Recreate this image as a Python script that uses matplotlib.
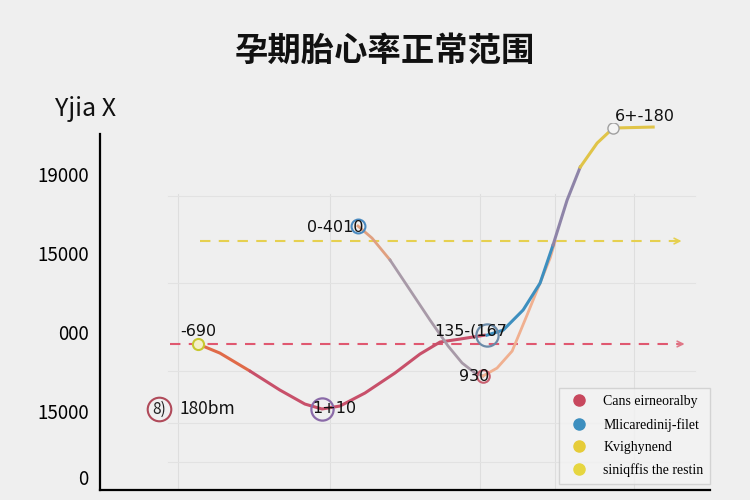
import matplotlib
matplotlib.use("Agg")
import matplotlib.pyplot as plt
from matplotlib.lines import Line2D

plt.rcParams['font.family'] = ['Noto Sans CJK SC', 'DejaVu Sans']

# ---------------- data ----------------
title = "孕期胎心率正常范围"
y_label = "Yjia X"
y_ticks = [0, 40, 80, 120, 160]
y_tick_labels = ["0", "15000", "000", "15000", "19000"]
x_grid = [5.1, 15.1, 24.9, 29.8, 35.0]
y_grid = [14, 34, 60, 105, 149]

red_x = [6.43, 7.87, 9.84, 11.80, 13.44, 14.56, 15.74, 17.38, 19.34, 20.98, 22.30, 23.61, 25.25]
red_y = [73.9, 69.3, 60.2, 50.6, 43.5, 41.0, 42.5, 49.1, 59.2, 68.8, 74.9, 76.4, 78.4]

desc_x = [16.92, 17.84, 19.02, 20.33, 21.64, 22.82, 23.74, 24.59, 25.11]
desc_y = [133.6, 127.5, 116.4, 101.2, 86.0, 72.9, 64.3, 59.2, 57.7]

blue_x = [25.38, 26.43, 27.74, 28.85, 29.7]
blue_y = [78.4, 80.9, 91.1, 104.7, 124.0]

purple_x = [29.7, 30.62, 31.48]
purple_y = [124.0, 146.7, 163.4]

yellow_x = [31.48, 32.59, 33.64, 36.26]
yellow_y = [163.4, 175.6, 183.2, 183.7]

peach_x = [25.11, 26.03, 27.02, 28.00, 29.51, 29.84]
peach_y = [57.7, 61.7, 70.3, 88.6, 117.4, 126.0]

red_ref_y = 73.9
red_ref_x = [4.6, 38.2]
yellow_ref_y = 126.0
yellow_ref_x = [6.6, 38.0]

point_labels = [
    ("-690", 6.43, 80.3),
    ("0-4010", 15.4, 132.8),
    ("1+10", 15.4, 41.4),
    ("135-(167", 24.3, 80.3),
    ("930", 24.5, 57.6),
    ("6+-180", 35.7, 189.0),
]

legend_labels = ["Cans eirneoralby", "Mlicaredinij-filet", "Kvighynend", "siniqffis the restin"]
legend_colors = ["#c8485e", "#3d8fbf", "#e6cc38", "#e6d640"]

# ---------------- figure ----------------
bg = "#efefef"
fig = plt.figure(figsize=(7.5, 5), dpi=100, facecolor=bg)
ax = fig.add_axes([0.133, 0.02, 0.814, 0.735], facecolor=bg)
ax.set_xlim(0, 40)
ax.set_ylim(0, 186)

for s in ['top', 'right']:
    ax.spines[s].set_visible(False)
ax.spines['left'].set_bounds(0, 180)
ax.spines['left'].set_linewidth(1.6)
ax.spines['bottom'].set_linewidth(1.6)

ax.set_yticks(y_ticks)
ax.set_yticklabels(y_tick_labels, fontsize=13.5)
ax.get_yticklabels()[0].set_va('bottom')
ax.set_xticks([])
ax.tick_params(axis='y', length=0, pad=8)

for gx in x_grid:
    ax.plot([gx, gx], [0, 150], color="#dedede", lw=0.8, zorder=0)
for gy in y_grid:
    ax.plot([4.5, 39], [gy, gy], color="#e2e2e2", lw=0.8, zorder=0)

# reference dashed lines with arrows
ax.plot(red_ref_x, [red_ref_y] * 2, ls=(0, (5, 4)), color="#e05870", lw=1.5, zorder=2)
ax.annotate("", xy=(red_ref_x[1] + 0.3, red_ref_y), xytext=(red_ref_x[1] - 0.5, red_ref_y),
            arrowprops=dict(arrowstyle="->", color="#e07888", lw=1.2))
ax.plot(yellow_ref_x, [yellow_ref_y] * 2, ls=(0, (5, 4)), color="#e6d050", lw=1.5, zorder=2)
ax.annotate("", xy=(yellow_ref_x[1] + 0.3, yellow_ref_y), xytext=(yellow_ref_x[1] - 0.5, yellow_ref_y),
            arrowprops=dict(arrowstyle="->", color="#e6d050", lw=1.2))

# curves
ax.plot(red_x[:3], red_y[:3], color="#e06a48", lw=2.2, zorder=3, solid_capstyle='round')
ax.plot(red_x[2:], red_y[2:], color="#c8506a", lw=2.2, zorder=3, solid_capstyle='round')
ax.plot(desc_x[:3], desc_y[:3], color="#e0a080", lw=2.0, zorder=3)
ax.plot(desc_x[2:], desc_y[2:], color="#a89aa8", lw=2.0, zorder=3)
ax.plot(peach_x, peach_y, color="#f0b090", lw=2.0, zorder=3)
ax.plot(blue_x, blue_y, color="#3d8fbf", lw=2.2, zorder=4)
ax.plot(purple_x, purple_y, color="#8e84a8", lw=2.2, zorder=4)
ax.plot(yellow_x, yellow_y, color="#e0c448", lw=2.2, zorder=4)

# markers
ax.plot([red_x[0]], [red_y[0]], 'o', ms=8, mfc="#f4f0c8", mec="#c8c830", mew=1.5, zorder=5)
ax.plot([red_x[5]], [red_y[5]], 'o', ms=16, mfc="none", mec="#8a6aa8", mew=1.6, zorder=5)
ax.plot([desc_x[0]], [desc_y[0]], 'o', ms=10, mfc="none", mec="#4a8ac0", mew=1.5, zorder=5)
ax.plot([blue_x[0]], [blue_y[0]], 'o', ms=16, mfc="none", mec="#6a8aa8", mew=1.6, zorder=5)
ax.plot([desc_x[-1]], [desc_y[-1]], 'o', ms=9, mfc="none", mec="#c86070", mew=1.5, zorder=5)
ax.plot([yellow_x[2]], [yellow_y[2]], 'o', ms=8, mfc="#f4f4f4", mec="#a0a0a0", mew=1.0, zorder=5)

for txt, x, y in point_labels:
    ax.text(x, y, txt, fontsize=11.5, ha='center', va='center',
            color="#111111", zorder=6, family=['DejaVu Sans'], clip_on=False)

# side annotation
ax.plot([3.9], [41.0], 'o', ms=17, mfc="none", mec="#b04a5a", mew=1.5, zorder=5)
ax.text(3.9, 41.0, "8)", fontsize=11, ha='center', va='center', color="#222222")
ax.text(5.2, 41.0, "180bm", fontsize=12.5, ha='left', va='center', color="#111111")

# legend
handles = [Line2D([0], [0], marker='o', ls='none', ms=8, mfc=c, mec=c) for c in legend_colors]
leg = ax.legend(handles, legend_labels, loc='lower right', bbox_to_anchor=(1.0, 0.016),
                borderaxespad=0, labelspacing=0.68, handletextpad=0.7, borderpad=0.5,
                frameon=True, fancybox=False, facecolor="#f3f3f3", edgecolor="#cccccc",
                prop={'family': 'Liberation Serif', 'size': 10})
leg.get_frame().set_linewidth(1.0)

fig.text(0.073, 0.782, y_label, fontsize=18, ha='left', va='center', color="#111111")
fig.text(0.513, 0.897, title, fontsize=24, fontweight='bold', ha='center', va='center',
         color="#111111")

fig.savefig("out.png", dpi=100, facecolor=bg)
